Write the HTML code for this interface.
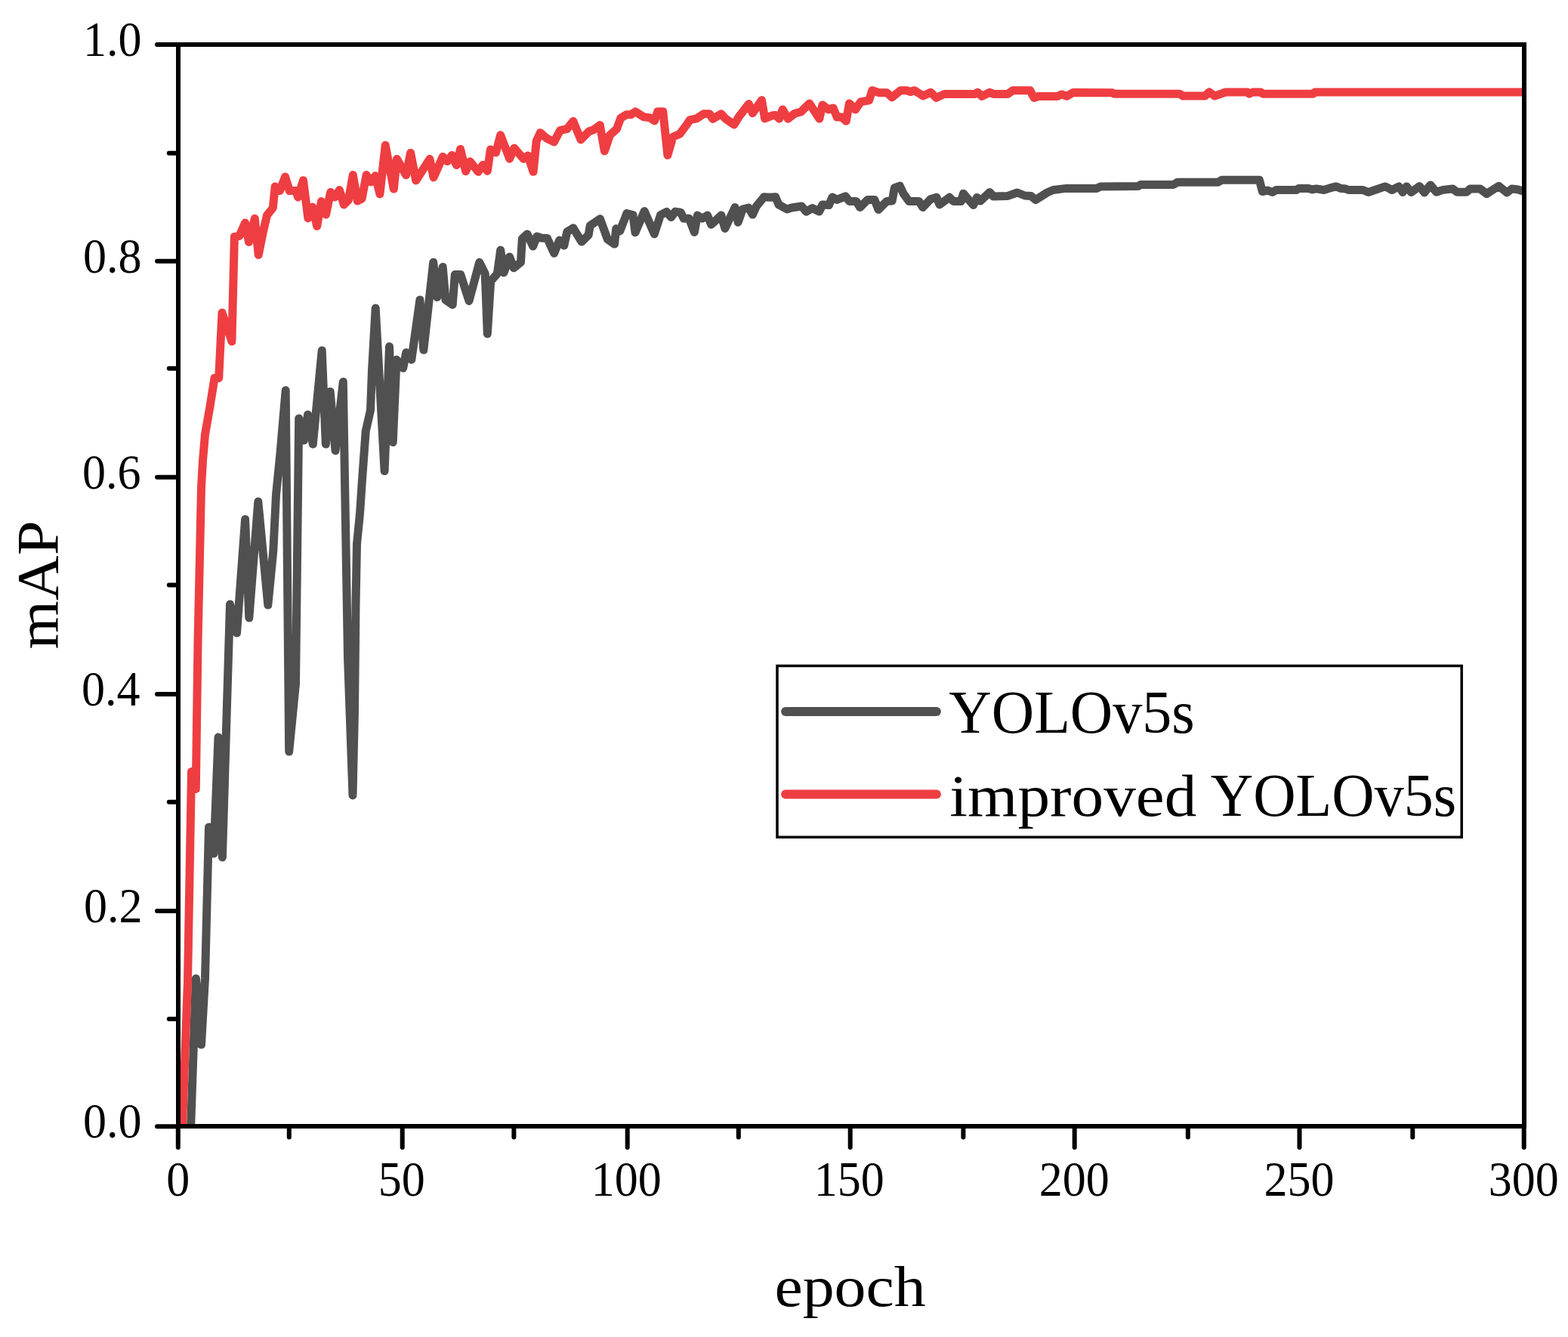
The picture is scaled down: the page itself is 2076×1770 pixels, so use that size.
<!DOCTYPE html><html><head><meta charset="utf-8"><title>mAP vs epoch</title><style>
html,body{margin:0;padding:0;background:#fff;overflow:hidden;}
svg{display:block;} text{font-family:"Liberation Serif", serif;fill:#000;}
</style></head><body>
<svg width="2076" height="1770" viewBox="0 0 2076 1770">
<rect width="2076" height="1770" fill="#fff"/>
<defs><clipPath id="pc"><rect x="236.0" y="59.0" width="1782.0" height="1432.0"/></clipPath></defs>
<g clip-path="url(#pc)" fill="none" stroke-width="11" stroke-linejoin="round" stroke-linecap="round">
<polyline stroke="#505050" points="252.0,1510.0 259.4,1295.5 266.5,1383.0 271.5,1295.0 276.5,1095.0 283.0,1130.0 289.0,976.0 294.4,1135.0 304.5,800.0 313.5,838.0 324.6,687.5 329.8,818.0 341.8,664.0 354.8,801.0 361.8,729.0 365.5,655.0 371.0,600.0 378.2,516.8 382.7,995.0 391.5,905.0 395.7,554.0 402.4,583.0 407.5,549.0 414.3,588.0 426.2,464.0 431.3,588.0 437.2,518.5 444.0,596.6 454.3,505.5 460.5,870.0 467.0,1053.0 469.5,940.0 471.0,800.0 472.5,720.0 476.5,680.0 479.5,635.0 484.2,571.0 490.5,543.0 492.5,490.0 497.2,408.0 509.1,623.6 515.5,458.7 520.2,585.5 525.0,476.2 533.7,487.3 537.7,466.7 544.8,476.2 555.9,397.0 560.8,463.3 573.7,347.3 578.7,393.4 586.2,353.5 589.9,397.0 599.2,403.4 602.3,363.5 609.8,363.5 621.0,398.4 634.7,347.3 642.2,362.3 645.3,442.0 649.7,372.2 658.4,362.3 662.7,331.1 667.1,361.0 674.6,339.9 680.2,354.8 689.5,347.3 691.3,316.0 698.1,309.9 705.7,326.1 710.8,313.0 716.4,315.0 724.5,315.5 733.6,335.3 740.7,318.0 746.8,325.1 750.8,306.9 758.9,301.8 770.1,320.1 779.2,311.0 781.2,298.8 794.4,289.7 804.5,317.0 813.6,323.1 815.7,302.8 820.7,305.9 829.9,282.6 838.0,284.6 841.0,307.9 853.2,279.5 866.3,309.9 874.5,284.6 882.6,280.5 888.6,287.6 894.1,280.1 901.1,281.1 905.2,289.2 912.3,289.2 919.4,307.4 923.4,285.1 930.0,289.2 936.6,285.1 941.7,297.3 954.9,285.1 959.9,302.4 973.1,274.5 977.2,294.3 983.2,277.0 991.3,275.0 996.4,284.1 1001.5,273.0 1011.6,260.8 1019.7,261.3 1026.8,260.8 1030.9,270.9 1042.0,277.0 1048.1,275.0 1061.3,273.0 1067.4,280.1 1075.5,275.5 1084.6,280.1 1089.0,271.0 1097.5,271.5 1102.0,261.0 1108.2,264.4 1119.4,259.8 1124.5,266.4 1133.6,266.4 1138.6,274.5 1148.8,264.4 1157.9,264.4 1163.0,277.5 1174.1,266.4 1181.2,265.9 1184.3,248.6 1191.3,246.1 1196.4,256.8 1203.5,266.4 1216.7,266.4 1221.8,274.5 1231.9,263.8 1240.0,261.3 1244.0,270.9 1257.2,261.3 1262.3,266.4 1272.4,266.4 1275.5,256.2 1288.6,271.5 1293.5,261.5 1298.1,266.1 1310.3,254.5 1315.3,260.1 1333.6,259.6 1346.8,255.0 1356.9,259.0 1365.0,259.6 1371.1,264.6 1386.3,255.0 1394.4,251.5 1407.6,249.9 1411.6,249.4 1452.2,249.4 1457.2,246.9 1507.2,246.4 1510.3,244.4 1553.8,244.4 1558.9,241.3 1612.6,241.3 1617.7,238.3 1667.4,238.3 1671.4,253.5 1678.5,252.0 1684.6,254.5 1689.7,251.5 1716.4,251.5 1719.4,249.4 1732.6,249.4 1737.6,250.9 1742.7,249.9 1752.8,251.5 1760.9,248.9 1769.0,246.9 1775.1,249.4 1781.2,249.9 1785.3,251.5 1804.5,251.5 1811.6,254.5 1833.9,246.9 1843.0,251.5 1852.2,246.9 1857.2,254.5 1862.3,246.9 1868.4,254.5 1879.5,246.6 1885.8,255.0 1893.8,244.9 1901.7,254.3 1910.4,251.4 1923.4,250.0 1929.2,254.3 1941.5,254.3 1946.6,250.0 1959.7,250.0 1968.3,256.5 1984.3,246.3 1995.1,255.0 2001.6,250.0 2008.9,250.7 2018.0,253.5"/>
<polyline stroke="#EE3E42" points="240.8,1510.0 248.5,1300.0 253.5,1021.5 259.3,1044.5 262.0,850.0 266.5,645.0 268.5,610.0 271.5,575.0 277.5,541.0 282.5,510.0 284.0,500.6 289.7,500.6 294.0,414.0 306.9,452.0 310.4,313.4 316.8,312.6 324.6,295.0 329.5,320.4 337.3,289.3 342.2,337.4 347.9,309.1 353.5,285.1 361.3,275.2 364.2,246.9 370.5,252.5 377.6,234.1 383.3,252.5 391.7,252.5 394.6,261.0 401.5,238.7 407.9,289.0 413.8,274.0 419.7,299.4 425.5,266.6 431.6,284.0 437.6,254.5 443.5,261.0 449.4,251.6 455.4,271.0 461.3,265.0 467.3,231.6 473.2,266.0 479.1,263.0 485.1,231.6 490.9,241.0 497.0,232.8 502.9,257.0 510.2,192.3 521.3,250.1 525.4,210.5 537.6,231.8 543.6,202.4 550.7,238.9 569.0,210.5 574.0,234.9 586.2,207.5 592.3,213.6 598.4,205.5 604.5,218.6 609.5,197.4 616.6,226.8 622.2,213.8 633.2,227.4 639.3,218.3 645.3,226.4 649.4,198.0 656.5,202.1 662.6,178.8 674.7,210.2 680.8,196.0 693.0,210.2 699.0,206.1 706.1,227.4 710.2,186.9 715.3,175.7 723.4,182.8 733.5,187.9 741.6,172.7 750.7,170.7 758.9,160.5 769.0,184.9 780.1,173.7 786.2,171.7 794.3,165.6 800.4,200.1 807.5,178.8 816.6,170.7 821.7,156.5 829.1,151.8 835.2,151.8 841.3,147.8 852.4,154.9 860.5,155.9 866.6,159.9 870.7,147.8 877.8,147.8 883.9,205.5 890.9,181.2 900.1,177.2 909.2,165.0 913.2,158.9 922.4,156.9 931.5,150.8 939.6,150.8 943.6,157.4 954.8,150.8 960.9,157.4 972.0,165.0 978.1,154.9 991.3,137.6 996.4,149.8 1008.5,132.6 1012.6,156.9 1022.7,152.8 1027.1,152.6 1031.7,157.2 1036.2,145.0 1043.3,157.2 1052.4,150.1 1060.5,148.0 1071.7,136.9 1084.9,157.2 1088.9,138.9 1097.0,145.0 1103.1,143.0 1108.2,155.1 1114.3,155.1 1120.3,160.2 1124.4,136.9 1132.5,145.0 1139.6,134.9 1150.7,132.8 1154.8,119.7 1163.9,122.7 1174.0,122.7 1181.1,128.8 1192.3,119.7 1200.4,119.7 1205.5,121.7 1210.5,119.7 1222.0,126.9 1232.2,122.3 1239.8,129.4 1250.4,124.4 1290.9,124.4 1294.5,122.3 1300.1,127.4 1310.2,122.3 1315.3,124.4 1334.5,124.4 1340.6,119.8 1363.9,119.8 1369.0,129.4 1375.1,127.4 1400.4,127.4 1405.5,124.9 1412.6,127.4 1420.7,122.5 1472.8,122.7 1475.0,124.2 1561.9,124.2 1566.2,127.1 1595.2,127.1 1601.0,122.0 1608.2,127.1 1622.7,122.0 1651.6,122.0 1653.8,124.2 1658.9,122.0 1669.0,122.0 1671.9,124.2 1738.8,124.2 1741.0,122.0 2018.0,122.0"/>
</g>
<g stroke="#000" stroke-width="6" fill="none" stroke-linecap="butt">
<rect x="236.0" y="59.0" width="1782.0" height="1432.0"/>
</g>
<g stroke="#000" stroke-width="6" fill="none" stroke-linecap="round">
<line x1="208" y1="1491.3" x2="236.0" y2="1491.3"/>
<line x1="223.8" y1="1349.0" x2="236.0" y2="1349.0"/>
<line x1="208" y1="1206.0" x2="236.0" y2="1206.0"/>
<line x1="223.8" y1="1061.7" x2="236.0" y2="1061.7"/>
<line x1="208" y1="919.1" x2="236.0" y2="919.1"/>
<line x1="223.8" y1="774.6" x2="236.0" y2="774.6"/>
<line x1="208" y1="631.8" x2="236.0" y2="631.8"/>
<line x1="223.8" y1="487.7" x2="236.0" y2="487.7"/>
<line x1="208" y1="345.8" x2="236.0" y2="345.8"/>
<line x1="223.8" y1="202.8" x2="236.0" y2="202.8"/>
<line x1="208" y1="58.9" x2="236.0" y2="58.9"/>
<line x1="235.8" y1="1491.0" x2="235.8" y2="1519"/>
<line x1="382.8" y1="1491.0" x2="382.8" y2="1505.5"/>
<line x1="532.7" y1="1491.0" x2="532.7" y2="1519"/>
<line x1="680.4" y1="1491.0" x2="680.4" y2="1505.5"/>
<line x1="830.7" y1="1491.0" x2="830.7" y2="1519"/>
<line x1="977.8" y1="1491.0" x2="977.8" y2="1505.5"/>
<line x1="1125.7" y1="1491.0" x2="1125.7" y2="1519"/>
<line x1="1275.4" y1="1491.0" x2="1275.4" y2="1505.5"/>
<line x1="1422.7" y1="1491.0" x2="1422.7" y2="1519"/>
<line x1="1572.8" y1="1491.0" x2="1572.8" y2="1505.5"/>
<line x1="1720.5" y1="1491.0" x2="1720.5" y2="1519"/>
<line x1="1870.3" y1="1491.0" x2="1870.3" y2="1505.5"/>
<line x1="2017.7" y1="1491.0" x2="2017.7" y2="1519"/>
</g>
<text transform="translate(110.00,1506.00) scale(1.0000,1.0700)" font-size="62">0.0</text>
<text transform="translate(111.00,1220.70) scale(1.0000,1.0700)" font-size="62">0.2</text>
<text transform="translate(108.00,933.80) scale(1.0000,1.0700)" font-size="62">0.4</text>
<text transform="translate(109.00,646.50) scale(1.0000,1.0700)" font-size="62">0.6</text>
<text transform="translate(110.00,360.50) scale(1.0000,1.0700)" font-size="62">0.8</text>
<text transform="translate(110.00,73.60) scale(1.0000,1.0700)" font-size="62">1.0</text>
<text transform="translate(220.25,1582.80) scale(1.0000,1.0700)" font-size="62">0</text>
<text transform="translate(500.70,1582.80) scale(1.0000,1.0700)" font-size="62">50</text>
<text transform="translate(782.70,1582.80) scale(1.0000,1.0700)" font-size="62">100</text>
<text transform="translate(1077.70,1582.80) scale(1.0000,1.0700)" font-size="62">150</text>
<text transform="translate(1375.70,1582.80) scale(1.0000,1.0700)" font-size="62">200</text>
<text transform="translate(1673.50,1582.80) scale(1.0000,1.0700)" font-size="62">250</text>
<text transform="translate(1970.70,1582.80) scale(1.0000,1.0700)" font-size="62">300</text>
<text transform="translate(1025.39,1729.30) scale(1.1045,1.0094)" font-size="76">epoch</text>
<text transform="translate(76.1,859.38) rotate(-90) scale(1.0881,1.0400)" font-size="76">mAP</text>
<rect x="1029" y="881.5" width="906.2" height="226.8" fill="#fff" stroke="#000" stroke-width="3.5"/>
<line x1="1040" y1="942" x2="1240" y2="942" stroke="#505050" stroke-width="11.8" stroke-linecap="round"/>
<line x1="1040" y1="1051.5" x2="1240" y2="1051.5" stroke="#EE3E42" stroke-width="11.8" stroke-linecap="round"/>
<text transform="translate(1256.37,970.40) scale(1.0278,1.0600)" font-size="76">YOLOv5s</text>
<text transform="translate(1257.35,1080.20) scale(1.1226,1.0189)" font-size="76">improved</text>
<text transform="translate(1602.87,1080.20) scale(1.0272,1.0460)" font-size="76">YOLOv5s</text>
</svg></body></html>
